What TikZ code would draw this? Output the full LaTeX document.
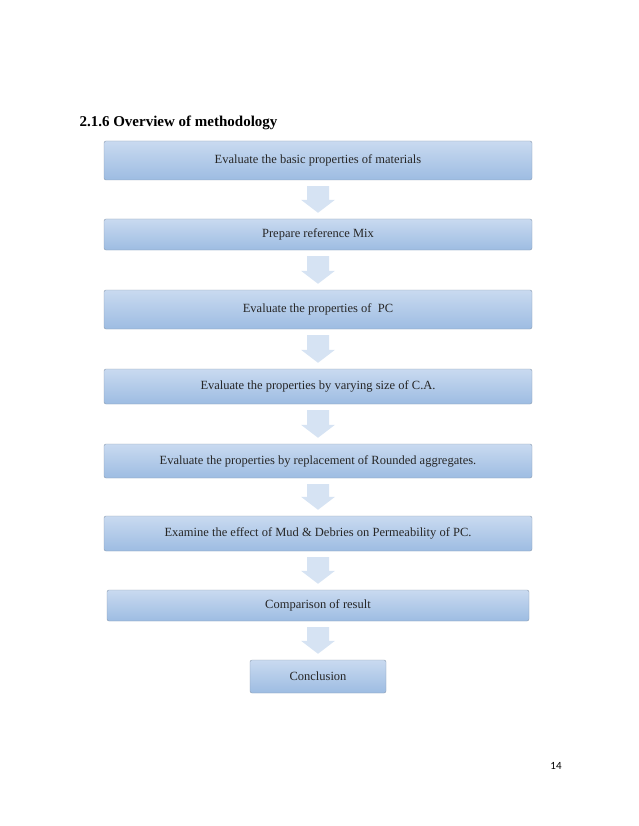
\documentclass[tikz,border=0pt]{standalone}
\usepackage{fontspec}
\setmainfont{Liberation Serif}
\newfontfamily\pagefont{Carlito}
\usetikzlibrary{calc}
\definecolor{boxtop}{HTML}{C9DAF0}
\definecolor{boxbot}{HTML}{9DBCE2}
\definecolor{arrfill}{HTML}{D6E3F3}
\definecolor{boxline}{HTML}{8A9BB0}
\tikzset{
  stepbox/.style={draw=boxline, rounded corners=2pt, top color=boxtop, bottom color=boxbot, minimum height=#1, inner sep=0pt, font=\fontsize{12.5}{14}\selectfont, text=black!85},
  barrow/.style={fill=arrfill, draw=none}
}
\newcommand{\blockarr}[2]{%
  \path let \p1=($(#1.south)+(0pt,-6pt)$), \p2=($(#2.north)+(0pt,6pt)$) in
   [barrow] (\x1-11pt,\y1) -- (\x1+11pt,\y1) -- (\x1+11pt,\y2+13pt) -- (\x1+17pt,\y2+13pt) -- (\x1,\y2) -- (\x1-17pt,\y2+13pt) -- (\x1-11pt,\y2+13pt) -- cycle;}
\begin{document}
\begin{tikzpicture}[x=1pt,y=-1pt]
\useasboundingbox (0,0) rectangle (638,826);
\node[anchor=base west, font=\bfseries\fontsize{15}{17}\selectfont] (title) at (76,127) {2.1.6 Overview of methodology};
\node[stepbox=39pt, minimum width=428pt] (b1) at (318,160.5) {Evaluate the basic properties of materials};
\node[stepbox=31pt, minimum width=428pt] (b2) at (318,234.5) {Prepare reference Mix};
\node[stepbox=39pt, minimum width=428pt] (b3) at (318,309.5) {Evaluate the properties of~ PC};
\node[stepbox=35pt, minimum width=428pt] (b4) at (318,386.5) {Evaluate the properties by varying size of C.A.};
\node[stepbox=34pt, minimum width=428pt] (b5) at (318,461) {Evaluate the properties by replacement of Rounded aggregates.};
\node[stepbox=35pt, minimum width=428pt] (b6) at (318,533.5) {Examine the effect of Mud \& Debries on Permeability of PC.};
\node[stepbox=31pt, minimum width=422pt] (b7) at (318,605.5) {Comparison of result};
\node[stepbox=33pt, minimum width=136pt] (b8) at (318,676.5) {Conclusion};
\blockarr{b1}{b2}
\blockarr{b2}{b3}
\blockarr{b3}{b4}
\blockarr{b4}{b5}
\blockarr{b5}{b6}
\blockarr{b6}{b7}
\blockarr{b7}{b8}
\node[font=\pagefont\fontsize{11}{13}\selectfont] (pg) at (556,766) {14};
\end{tikzpicture}
\end{document}
